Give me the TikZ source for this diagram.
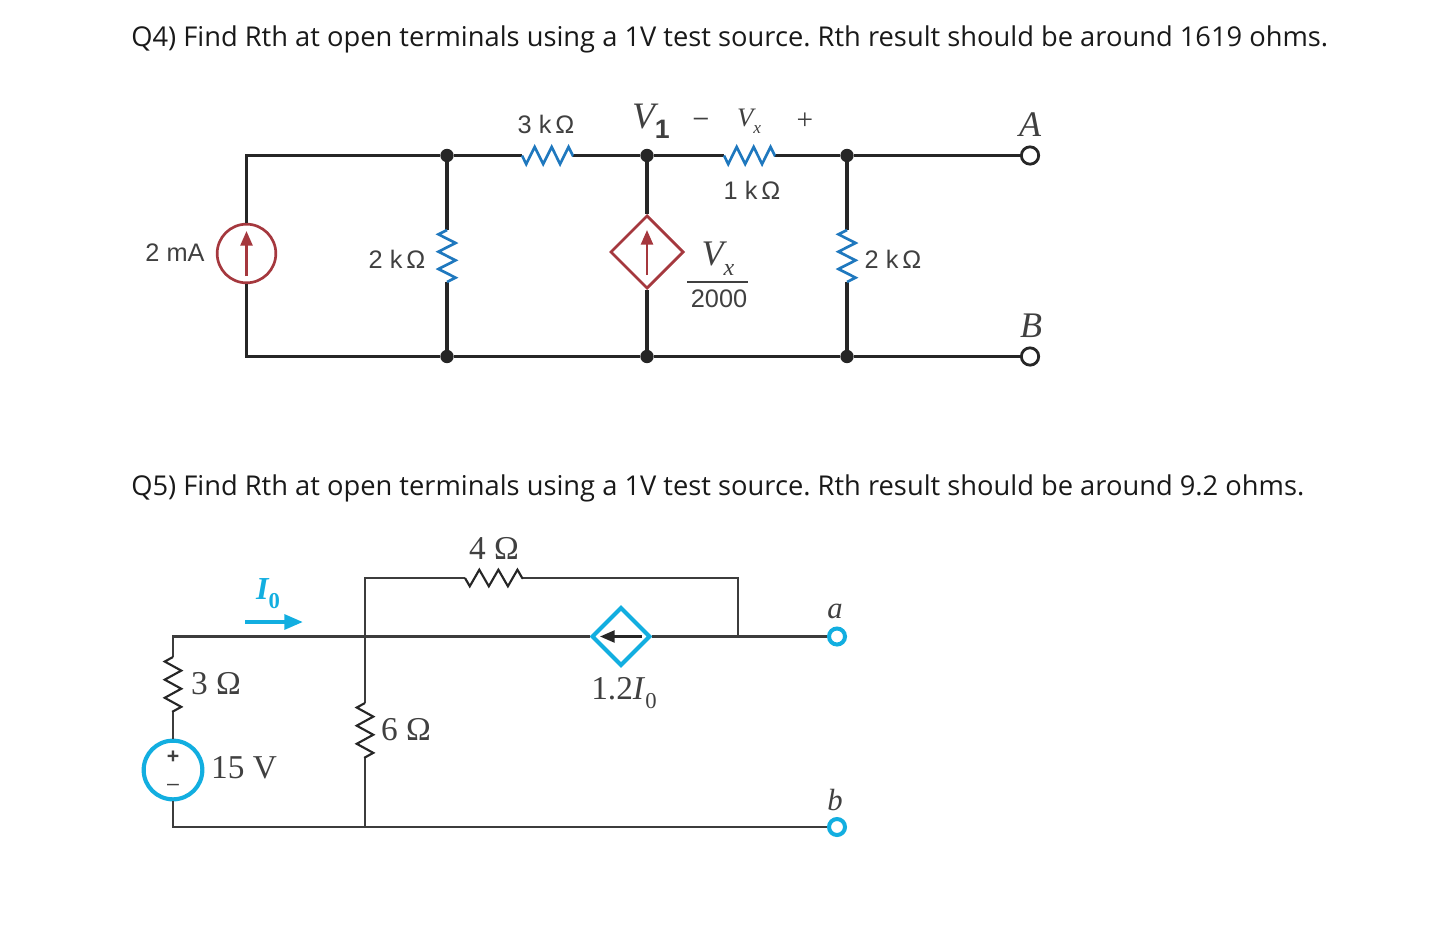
\documentclass[tikz,border=0pt]{standalone}
\usepackage{fontspec}
\setmainfont{Liberation Serif}
\newfontfamily\headfont{Open Sans}
\newfontfamily\labelfont{Liberation Sans}
\usetikzlibrary{shapes.geometric,decorations.pathmorphing,arrows.meta}
\definecolor{wirek}{HTML}{262626}
\definecolor{labelk}{HTML}{404040}
\definecolor{srcred}{HTML}{A5383E}
\definecolor{resblue}{HTML}{1F78BE}
\definecolor{cyanb}{HTML}{12AEE0}
\newcommand{\subtxt}[2]{\raisebox{-0.28em}{\fontsize{#1}{#1}\selectfont #2}}
\frenchspacing
\tikzset{
  heading/.style={anchor=base west,inner sep=0pt,font=\headfont\fontsize{20.47}{24}\selectfont,text=black!90},
  wirea/.style={draw=wirek,line width=2.8pt},
  wireb/.style={draw=wirek!90,line width=2.2pt},
  resa/.style={draw=resblue,line width=2pt,line join=miter,decorate,decoration={zigzag,mirror,amplitude=6.4pt,segment length=#1}},
  resb/.style={draw=wirek,line width=1.6pt,line join=miter,decorate,decoration={zigzag,mirror,amplitude=6.2pt,segment length=#1}},
  dot/.style={circle,fill=wirek,inner sep=0pt,minimum size=10pt},
  terma/.style={circle,draw=wirek,fill=white,line width=2.1pt,inner sep=0pt,minimum size=13pt},
  termb/.style={circle,draw=cyanb,fill=white,line width=3pt,inner sep=0pt,minimum size=12pt},
  csource/.style={circle,draw=srcred,line width=2pt,fill=white,inner sep=0pt,minimum size=44pt},
  dsource/.style={diamond,draw=srcred,line width=2pt,fill=white,inner sep=0pt,minimum size=55pt},
  vsource/.style={circle,draw=cyanb,line width=3.1pt,fill=white,inner sep=0pt,minimum size=44pt},
  dsourceb/.style={diamond,draw=cyanb,line width=3.1pt,inner sep=0pt,minimum size=44pt},
  redarrow/.style={draw=srcred,line width=1.9pt,-{Triangle[length=11pt,width=9pt]}},
  lbla/.style={inner sep=0pt,text=labelk,font=\labelfont\fontsize{19}{22}\selectfont},
  lblb/.style={inner sep=0pt,text=labelk,font=\fontsize{25}{28}\selectfont},
  ital/.style={inner sep=0pt,text=labelk,font=\itshape\fontsize{#1}{#1}\selectfont},
}
\begin{document}
\begin{tikzpicture}[x=0.75pt,y=-0.75pt]
\useasboundingbox (0,0) rectangle (1433,943);
% headings
\node[heading] (h1) at (131,46) {Q4) Find Rth at open terminals using a 1V test source. Rth result should be around 1619 ohms.};
\node[heading] (h2) at (131,495) {Q5) Find Rth at open terminals using a 1V test source. Rth result should be around 9.2 ohms.};
% ---------- Q4
\coordinate (tl) at (246.5,155.5);
\coordinate (bl) at (246.5,356.5);
\node[dot] (j1t) at (447,155.5) {};
\node[dot] (j1b) at (447,356.5) {};
\node[dot] (j2t) at (647,155.5) {};
\node[dot] (j2b) at (647,356.5) {};
\node[dot] (j3t) at (847,155.5) {};
\node[dot] (j3b) at (847,356.5) {};
\node[terma] (A) at (1030,155.5) {};
\node[terma] (B) at (1030,356.5) {};
\coordinate (r3a) at (522,155.5);
\coordinate (r3b) at (573,155.5);
\coordinate (r1a) at (724,155.5);
\coordinate (r1b) at (775,155.5);
\coordinate (r2a) at (447,230);
\coordinate (r2b) at (447,282);
\coordinate (r4a) at (847,230);
\coordinate (r4b) at (847,282);
\node[csource] (cs) at (246.5,253.5) {};
\node[dsource] (ds) at (647,252) {};
\draw[wirea] (cs.north) -- (tl) -- (j1t) -- (r3a);
\draw[wirea] (r3b) -- (j2t) -- (r1a);
\draw[wirea] (r1b) -- (j3t) -- (A.west);
\draw[wirea] (cs.south) -- (bl) -- (j1b);
\draw[wirea] (j1b) -- (j2b) -- (j3b) -- (B.west);
\draw[wirea] (j1t) -- (r2a);
\draw[wirea] (r2b) -- (j1b);
\draw[wirea] (j3t) -- (r4a);
\draw[wirea] (r4b) -- (j3b);
\draw[wirea] (j2t) -- (ds.north);
\draw[wirea] (ds.south) -- (j2b);
\draw[resa=12.7pt/1] (r3a) -- (r3b);
\draw[resa=12.7pt/1] (r1a) -- (r1b);
\draw[resa=13pt/1] (r2a) -- (r2b);
\draw[resa=13pt/1] (r4a) -- (r4b);
\coordinate (csa) at (246.5,276);
\coordinate (csb) at (246.5,231);
\coordinate (dsa) at (647,275);
\coordinate (dsb) at (647,230);
\draw[redarrow] (csa) -- (csb);
\draw[redarrow] (dsa) -- (dsb);
\node[lbla] (l2ma) at (175,253) {2 mA};
\node[lbla] (l2k) at (397,259.5) {2 k$\,$Ω};
\node[lbla] (l3k) at (546,124) {3 k$\,$Ω};
\node[lbla] (l1k) at (752,190) {1 k$\,$Ω};
\node[lbla] (l2kb) at (893,259.5) {2 k$\,$Ω};
\node[ital=28] (lv1) at (651,121) {V\subtxt{20}{\labelfont\upshape\bfseries 1}};
\node[ital=20] (lvx) at (749,121) {V\subtxt{13}{x}};
\node[lbla] (lminus) at (701,122) {–};
\node[inner sep=0pt,text=labelk,font=\fontsize{22}{22}\selectfont] (lplus) at (805,121) {+};
\node[ital=27] (lA) at (1030,125) {A};
\node[ital=27] (lB) at (1031,326) {B};
\node[ital=27] (lvx2) at (718,259) {V\subtxt{18}{x}};
\node[lbla] (l2000) at (719,298.5) {2000};
\coordinate (fa) at (687,282);
\coordinate (fb) at (748,282);
\draw[draw=labelk,line width=1.1pt] (fa) -- (fb);
% ---------- Q5
\coordinate (tr) at (173,636.5);
\coordinate (br) at (173,827);
\coordinate (up) at (365,578);
\coordinate (upr) at (738,578);
\coordinate (mid) at (365,636.5);
\coordinate (midr) at (738,636.5);
\coordinate (low) at (365,827);
\coordinate (r5a) at (465,578);
\coordinate (r5b) at (523,578);
\coordinate (r6a) at (173,657);
\coordinate (r6b) at (173,712);
\coordinate (r7a) at (365,703);
\coordinate (r7b) at (365,758);
\node[vsource] (vs) at (173,770) {};
\node[dsourceb] (db) at (621,636.5) {};
\node[termb] (a) at (837,636.5) {};
\node[termb] (b) at (837,827) {};
\draw[wireb] (r6a) -- (tr) -- (mid) -- (db.west);
\draw[wireb] (db.east) -- (midr) -- (a.west);
\draw[wireb] (r6b) -- (vs.north);
\draw[wireb] (vs.south) -- (br) -- (low) -- (b.west);
\draw[wireb] (r7a) -- (mid) -- (up) -- (r5a);
\draw[wireb] (r5b) -- (upr) -- (midr);
\draw[wireb] (r7b) -- (low);
\draw[resb=14.3pt/1] (r5a) -- (r5b);
\draw[resb=13.6pt/1] (r6a) -- (r6b);
\draw[resb=13.6pt/1] (r7a) -- (r7b);
\coordinate (aa) at (642,636.5);
\coordinate (ab) at (600,636.5);
\draw[draw=wirek,line width=1.8pt,-{Triangle[length=11pt,width=9pt]}] (aa) -- (ab);
\coordinate (ia) at (245,622);
\coordinate (ib) at (303,622);
\draw[draw=cyanb,line width=3pt,-{Triangle[length=14pt,width=11pt]}] (ia) -- (ib);
\node[inner sep=0pt,text=cyanb,font=\bfseries\itshape\fontsize{24}{24}\selectfont] (li0) at (268,594) {I\subtxt{17}{\upshape 0}};
\node[lblb] (l4) at (494,548) {4 Ω};
\node[lblb] (l3) at (216,684) {3 Ω};
\node[lblb] (l6) at (406,730) {6 Ω};
\node[lblb] (l15) at (244,768) {15 V};
\node[inner sep=0pt,text=labelk,font=\fontsize{25}{28}\selectfont] (l12) at (624,693) {1.2\textit{I}\subtxt{17}{0}};
\node[ital=23] (la) at (835,611) {a};
\node[ital=23] (lb) at (835,800) {b};
\node[inner sep=0pt,text=labelk,font=\labelfont\bfseries\fontsize{16}{16}\selectfont] (lp) at (173,757) {+};
\node[inner sep=0pt,text=labelk,font=\labelfont\fontsize{16}{16}\selectfont] (lm) at (173,787) {–};
\end{tikzpicture}
\end{document}
